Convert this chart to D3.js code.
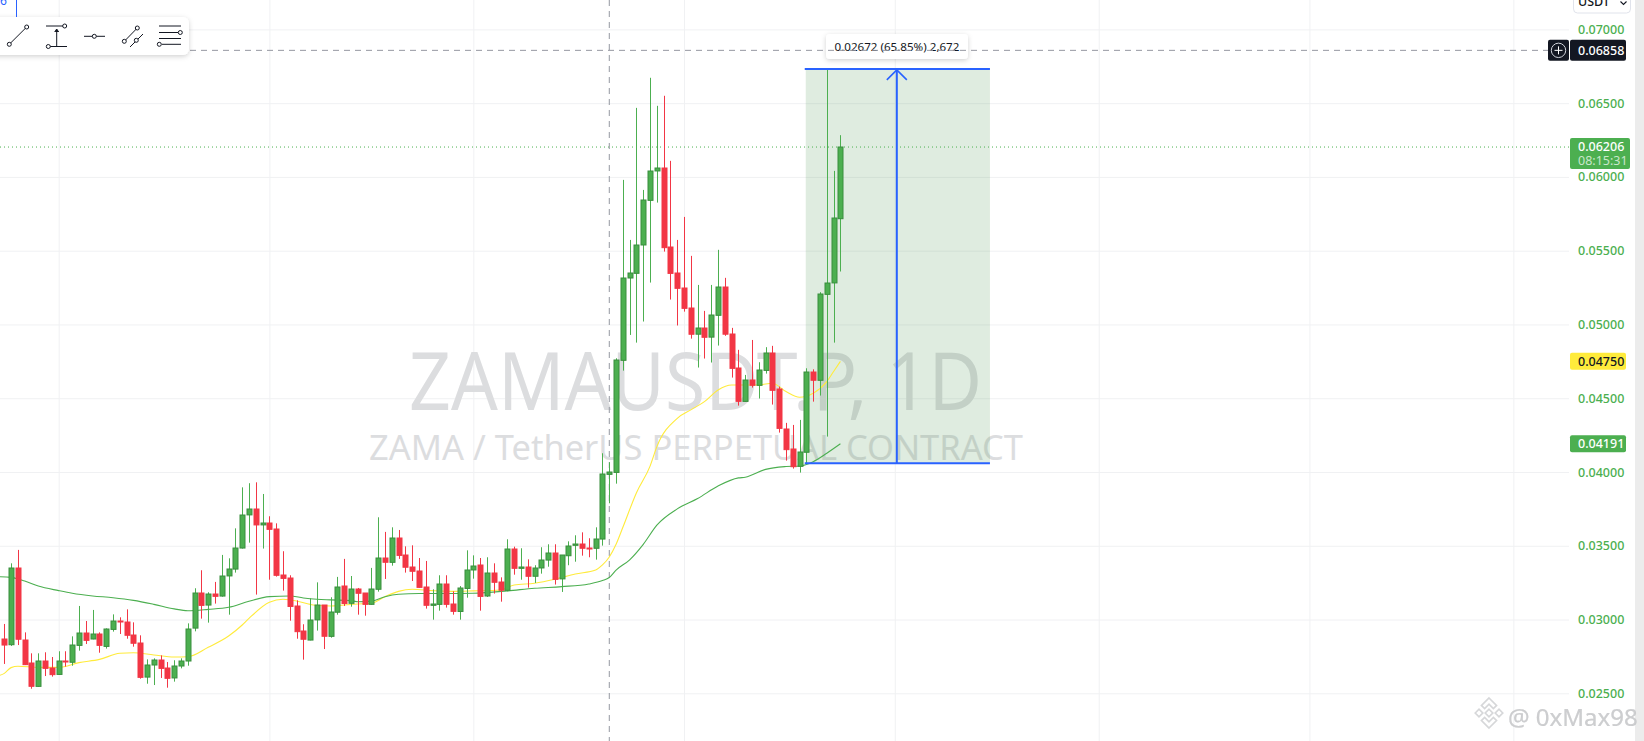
<!DOCTYPE html>
<html><head><meta charset="utf-8">
<style>html,body{margin:0;padding:0;background:#fff;overflow:hidden}svg{display:block}</style>
<script src="https://cdn.jsdelivr.net/npm/d3@7/dist/d3.min.js"></script></head>
<body><svg id="c" width="1644" height="741"></svg>
<script>
const opens=[0.02868,0.02827,0.03347,0.02859,0.02703,0.02545,0.02717,0.02669,0.02626,0.02717,
0.02708,0.02823,0.02907,0.02866,0.02900,0.02816,0.02931,0.02988,0.02981,0.02893,
0.02839,0.02608,0.02690,0.02724,0.02669,0.02602,0.02683,0.02717,0.02940,0.03178,
0.03096,0.03171,0.03157,0.03293,0.03340,0.03483,0.03707,0.03747,0.03639,0.03652,
0.03612,0.03300,0.03280,0.03092,0.02920,0.02859,0.02995,0.03096,0.02884,0.03047,
0.03227,0.03108,0.03205,0.03178,0.03101,0.03203,0.03415,0.03386,0.03551,0.03435,
0.03354,0.03327,0.03218,0.03094,0.03101,0.03239,0.03103,0.03053,0.03209,0.03334,
0.03368,0.03157,0.03313,0.03252,0.03196,0.03476,0.03345,0.03354,0.03291,0.03347,
0.03401,0.03449,0.03273,0.03435,0.03501,0.03510,0.03483,0.03481,0.03544,0.03982,
0.03996,0.04755,0.05313,0.05345,0.05537,0.05840,0.06039,0.06059,0.05524,0.05347,
0.05246,0.05110,0.04932,0.04974,0.04913,0.05060,0.05252,0.04934,0.04703,0.04477,
0.04622,0.04586,0.04687,0.04805,0.04561,0.04292,0.04154,0.04037,0.04132,0.04676,
0.04620,0.05203,0.05280,0.05720];
const closes=[0.02827,0.03347,0.02864,0.02692,0.02545,0.02717,0.02667,0.02624,0.02717,0.02712,
0.02825,0.02907,0.02857,0.02900,0.02823,0.02934,0.02988,0.02983,0.02891,0.02837,
0.02606,0.02690,0.02724,0.02667,0.02599,0.02683,0.02717,0.02934,0.03178,0.03094,
0.03171,0.03155,0.03293,0.03340,0.03483,0.03707,0.03747,0.03639,0.03652,0.03609,
0.03298,0.03277,0.03087,0.02918,0.02864,0.02995,0.03096,0.02884,0.03049,0.03218,
0.03108,0.03205,0.03176,0.03101,0.03205,0.03415,0.03386,0.03551,0.03433,0.03352,
0.03325,0.03216,0.03094,0.03103,0.03239,0.03101,0.03053,0.03212,0.03334,0.03361,
0.03155,0.03313,0.03250,0.03196,0.03476,0.03345,0.03354,0.03291,0.03347,0.03401,
0.03449,0.03270,0.03435,0.03501,0.03510,0.03481,0.03478,0.03544,0.03985,0.03998,
0.04758,0.05313,0.05347,0.05537,0.05842,0.06039,0.06059,0.05519,0.05345,0.05243,
0.05108,0.04932,0.04974,0.04911,0.05063,0.05252,0.04932,0.04701,0.04477,0.04622,
0.04586,0.04690,0.04805,0.04552,0.04294,0.04152,0.04034,0.04134,0.04676,0.04620,
0.05205,0.05280,0.05720,0.06206];
const highs=[0.02970,0.03381,0.03472,0.02913,0.02771,0.02771,0.02778,0.02746,0.02785,0.02785,
0.02886,0.03092,0.02990,0.03065,0.02913,0.02940,0.03035,0.03015,0.03069,0.02981,
0.02893,0.02730,0.02737,0.02757,0.02712,0.02724,0.02737,0.02974,0.03212,0.03334,
0.03185,0.03255,0.03438,0.03415,0.03618,0.03896,0.03924,0.03930,0.03851,0.03700,
0.03652,0.03463,0.03300,0.03130,0.02968,0.03144,0.03252,0.03096,0.03151,0.03289,
0.03411,0.03295,0.03214,0.03178,0.03350,0.03693,0.03594,0.03625,0.03607,0.03496,
0.03503,0.03417,0.03397,0.03205,0.03300,0.03300,0.03191,0.03227,0.03469,0.03435,
0.03417,0.03422,0.03381,0.03286,0.03544,0.03494,0.03483,0.03408,0.03368,0.03490,
0.03510,0.03510,0.03435,0.03530,0.03571,0.03591,0.03551,0.03625,0.04127,0.04066,
0.04771,0.05980,0.05573,0.06468,0.05912,0.06672,0.06482,0.06550,0.06109,0.05573,
0.05729,0.05465,0.05268,0.05092,0.05268,0.05506,0.05316,0.04977,0.04828,0.04658,
0.04895,0.04744,0.04846,0.04855,0.04579,0.04333,0.04319,0.04353,0.04703,0.04696,
0.05219,0.06737,0.06041,0.06283];
const lows=[0.02699,0.02821,0.02827,0.02692,0.02531,0.02545,0.02617,0.02613,0.02626,0.02681,
0.02687,0.02789,0.02834,0.02866,0.02775,0.02803,0.02918,0.02902,0.02870,0.02816,
0.02599,0.02565,0.02556,0.02604,0.02538,0.02579,0.02669,0.02687,0.02920,0.03006,
0.02979,0.03108,0.03155,0.03033,0.03318,0.03481,0.03521,0.03169,0.03481,0.03270,
0.03291,0.03196,0.02992,0.02870,0.02728,0.02859,0.02925,0.02800,0.02877,0.03033,
0.03092,0.03087,0.03033,0.03026,0.03101,0.03189,0.03275,0.03365,0.03411,0.03318,
0.03261,0.03216,0.03074,0.02999,0.03060,0.03081,0.03033,0.02999,0.03148,0.03277,
0.03060,0.03153,0.03176,0.03121,0.03191,0.03304,0.03270,0.03216,0.03248,0.03311,
0.03358,0.03237,0.03187,0.03368,0.03392,0.03433,0.03422,0.03406,0.03501,0.03788,
0.03921,0.04687,0.04929,0.04877,0.05020,0.05284,0.05826,0.05494,0.05169,0.04993,
0.05087,0.04904,0.04708,0.04769,0.04742,0.04857,0.04923,0.04640,0.04450,0.04477,
0.04572,0.04498,0.04667,0.04457,0.04267,0.04077,0.04023,0.03996,0.04059,0.04477,
0.04518,0.04240,0.04877,0.05359];

// moving averages read at sampled candle positions
const slowMaIndex=[-1,1,3,5,8,10,13,16,19,22,25,27,30,33,36,39,42,44,46,48,51,52,54,56,58,61,65,69,74,78,82,86,88,89,90,92,94,96,99,102,105,108,109,112,115,117,119,121,123];
const slowMaValue=[0.03291,0.03286,0.03261,0.03227,0.03196,0.03178,0.03160,0.03148,0.03130,0.03103,0.03072,0.03060,0.03069,0.03083,0.03124,0.03155,0.03160,0.03146,0.03137,0.03133,0.03128,0.03121,0.03125,0.03155,0.03171,0.03176,0.03176,0.03178,0.03194,0.03212,0.03223,0.03241,0.03264,0.03285,0.03335,0.03405,0.03510,0.03640,0.03750,0.03820,0.03905,0.03960,0.03964,0.04018,0.04037,0.04041,0.04070,0.04127,0.04191];
const fastMaIndex=[-1,0,1,2,5,8,11,14,17,19,22,25,27,30,33,35,36,39,41,43,45,46,48,50,52,54,56,58,60,63,66,69,73,75,78,81,84,87,88,89,90,91,93,95,96,99,101,103,105,107,109,111,113,115,117,119,121,122,123];
const fastMaValue=[0.02617,0.02635,0.02674,0.02683,0.02676,0.02676,0.02708,0.02730,0.02771,0.02775,0.02760,0.02746,0.02748,0.02812,0.02888,0.02963,0.03008,0.03117,0.03137,0.03126,0.03103,0.03095,0.03092,0.03099,0.03105,0.03110,0.03155,0.03191,0.03205,0.03196,0.03191,0.03194,0.03200,0.03234,0.03246,0.03273,0.03309,0.03336,0.03370,0.03424,0.03510,0.03625,0.03860,0.04040,0.04172,0.04364,0.04421,0.04477,0.04556,0.04590,0.04590,0.04590,0.04602,0.04545,0.04507,0.04534,0.04613,0.04681,0.04750];

const priceTicks=[0.025,0.03,0.035,0.04,0.045,0.05,0.055,0.06,0.065,0.07];
const monthStarts=[8,39,69,100,131,161,192,222];
const lastPrice=0.06206, countdown="08:15:31", crossPrice=0.06858, crossIndex=89;
const fastMaLast=0.04750, slowMaLast=0.04191;
const measureLow=0.04060, measureHigh=0.06732, measureFrom=117.9, measureTo=145, measureMid=131.3;
const measureText="0.02672 (65.85%) 2,672";

const UP="#4caf50",UPB="#388e3c",DOWN="#f23645",BLUE="#2962ff",FONT="'Noto Sans',sans-serif";
const svg=d3.select("#c");
const x=d3.scaleLinear().domain([0,123]).range([4.3,840.4]);
const y=d3.scaleLinear().domain([0.025,0.07]).range([693.3,29.4]);
const R=1569;

const defs=svg.append("defs");
const sh=defs.append("filter").attr("id","sh").attr("x","-20%").attr("y","-30%").attr("width","140%").attr("height","170%");
sh.append("feDropShadow").attr("dx",0).attr("dy",1.5).attr("stdDeviation",2.5).attr("flood-color","#000").attr("flood-opacity",.18);
const cp=defs.append("clipPath").attr("id","plot");cp.append("rect").attr("x",0).attr("y",0).attr("width",R).attr("height",741);

// grid
const gh=svg.append("g").call(d3.axisRight(y).tickValues(priceTicks).tickSize(R).tickFormat(""));
gh.select(".domain").remove();gh.selectAll("line").attr("stroke","#f0f1f3").attr("stroke-width",1);
const gv=svg.append("g").call(d3.axisBottom(x).tickValues(monthStarts).tickSize(741).tickFormat(""));
gv.select(".domain").remove();gv.selectAll("line").attr("stroke","#f0f1f3").attr("stroke-width",1);

// watermark
const wm=svg.append("g").attr("font-family","'Noto Sans',sans-serif").attr("fill","#dcdddf");
wm.append("text").attr("x",409).attr("y",409.5).attr("font-size",81).attr("textLength",573).attr("lengthAdjust","spacingAndGlyphs").text("ZAMAUSDT.P, 1D");
wm.append("text").attr("x",369).attr("y",460).attr("font-size",35).attr("textLength",654).attr("lengthAdjust","spacingAndGlyphs").text("ZAMA / TetherUS PERPETUAL CONTRACT");

// measure box fill
svg.append("rect").attr("x",x(measureFrom)).attr("y",y(measureHigh)).attr("width",x(measureTo)-x(measureFrom)).attr("height",y(measureLow)-y(measureHigh)).attr("fill","#5f9e63").attr("fill-opacity",.2);

// price lines
svg.append("line").attr("x1",0).attr("x2",R).attr("y1",y(lastPrice)+.5).attr("y2",y(lastPrice)+.5).attr("stroke",UP).attr("stroke-dasharray","1 3");
svg.append("line").attr("x1",x(crossIndex)).attr("x2",x(crossIndex)).attr("y1",0).attr("y2",741).attr("stroke","#9598a1").attr("stroke-dasharray","6 5");

// moving averages
const line=d3.line().curve(d3.curveMonotoneX);
const maPath=(ix,vals,col)=>svg.append("path").attr("d",line(ix.map((v,i)=>[x(v),y(vals[i])]))).attr("fill","none").attr("stroke",col).attr("stroke-width",1.1).attr("clip-path","url(#plot)");
maPath(fastMaIndex,fastMaValue,"#ffeb3b");
maPath(slowMaIndex,slowMaValue,"#4caf50");

// candles
const idx=d3.range(opens.length);
const g=svg.append("g");
g.selectAll("line").data(idx).join("line")
 .attr("x1",i=>Math.round(x(i))+.5).attr("x2",i=>Math.round(x(i))+.5)
 .attr("y1",i=>y(highs[i])).attr("y2",i=>y(lows[i]))
 .attr("stroke",i=>closes[i]>=opens[i]?UP:DOWN).attr("stroke-width",1);
g.selectAll("rect").data(idx).join("rect")
 .attr("x",i=>Math.round(x(i))-2).attr("width",5)
 .attr("y",i=>Math.round(y(Math.max(opens[i],closes[i]))))
 .attr("height",i=>Math.max(1,Math.abs(y(opens[i])-y(closes[i]))))
 .attr("fill",i=>closes[i]>=opens[i]?UP:DOWN)
 .attr("stroke",i=>closes[i]>=opens[i]?UPB:DOWN).attr("stroke-width",1);

// measure tool
const mx=x(measureMid),mt=y(measureHigh),mb=y(measureLow);
const ml=svg.append("g").attr("stroke",BLUE).attr("fill","none");
ml.append("line").attr("x1",x(measureFrom)-1).attr("x2",x(measureTo)).attr("y1",mt).attr("y2",mt).attr("stroke-width",2);
ml.append("line").attr("x1",x(measureFrom)-1).attr("x2",x(measureTo)).attr("y1",mb).attr("y2",mb).attr("stroke-width",2);
ml.append("line").attr("x1",mx).attr("x2",mx).attr("y1",mt).attr("y2",mb).attr("stroke-width",2);
ml.append("path").attr("d",`M${mx-10},${mt+11}L${mx},${mt+1}L${mx+10},${mt+11}`).attr("stroke-width",1.6);
const lb=svg.append("g");
lb.append("rect").attr("x",826).attr("y",34).attr("width",142).attr("height",25).attr("rx",4).attr("fill","#fff").attr("filter","url(#sh)");
lb.append("text").attr("x",897).attr("y",50.5).attr("text-anchor","middle").attr("font-family",FONT).attr("font-size",11.6).attr("fill","#131722").text(measureText);

// crosshair horizontal
svg.append("line").attr("x1",190).attr("x2",1548).attr("y1",y(crossPrice)).attr("y2",y(crossPrice)).attr("stroke","#9598a1").attr("stroke-dasharray","6 5");

// price axis
const ax=svg.append("g").attr("transform",`translate(1578,0)`).call(d3.axisRight(y).tickValues(priceTicks).tickSize(0).tickPadding(0).tickFormat(d3.format(".5f")));
ax.select(".domain").remove();
ax.selectAll("text").attr("font-family",FONT).attr("font-size",12.5).attr("fill",UP).attr("font-weight",500);

// scrollbar band
svg.append("rect").attr("x",1635).attr("y",0).attr("width",9).attr("height",741).attr("fill","#ececec");

// price tags
const tag=(price,h,bg,fg,w)=>{const cy=y(price);
 svg.append("rect").attr("x",1570).attr("y",cy-h/2).attr("width",w).attr("height",h).attr("rx",2).attr("fill",bg);
 svg.append("text").attr("x",1578).attr("y",cy+4.5).attr("font-family",FONT).attr("font-size",12.5).attr("font-weight",500).attr("fill",fg).text(d3.format(".5f")(price));};
tag(fastMaLast,17,"#ffeb3b","#131722",56);
tag(slowMaLast,17,UP,"#fff",56);
tag(crossPrice,21,"#131722","#fff",56);
svg.append("rect").attr("x",1570).attr("y",138).attr("width",60).attr("height",31).attr("rx",2).attr("fill",UP);
svg.append("text").attr("x",1578).attr("y",151).attr("font-family",FONT).attr("font-size",12.5).attr("font-weight",500).attr("fill","#fff").text(d3.format(".5f")(lastPrice));
svg.append("text").attr("x",1578).attr("y",165).attr("font-family",FONT).attr("font-size",12.5).attr("fill","#c9e7cb").text(countdown);
// plus button
const cy=y(crossPrice);
svg.append("rect").attr("x",1548).attr("y",cy-10.5).attr("width",21).attr("height",21).attr("rx",2).attr("fill","#131722");
svg.append("circle").attr("cx",1558.5).attr("cy",cy).attr("r",7.2).attr("fill","none").attr("stroke","#d1d4dc").attr("stroke-width",1);
svg.append("path").attr("d",`M1554.5,${cy}h8M1558.5,${cy-4}v8`).attr("stroke","#fff").attr("stroke-width",1);

// currency selector
svg.append("rect").attr("x",1573.5).attr("y",-10).attr("width",57).attr("height",23).attr("rx",4).attr("fill","#fff").attr("stroke","#e0e3eb");
svg.append("text").attr("x",1578).attr("y",6).attr("font-family",FONT).attr("font-size",12.5).attr("font-weight",500).attr("fill","#131722").text("USDT");
svg.append("path").attr("d","M1620.5,1.5l3,3l3,-3").attr("fill","none").attr("stroke","#131722").attr("stroke-width",1.1);

// toolbar
svg.append("rect").attr("x",-12).attr("y",17).attr("width",201).attr("height",38).attr("rx",6).attr("fill","#fff").attr("filter","url(#sh)");
const ic=svg.append("g").attr("stroke","#131722").attr("stroke-width",1).attr("fill","none");
const seg=(a,b,c,d)=>ic.append("line").attr("x1",a).attr("y1",b).attr("x2",c).attr("y2",d);
const dot=(a,b)=>ic.append("circle").attr("cx",a).attr("cy",b).attr("r",2).attr("fill","#fff");
seg(9.3,44.3,26.7,27);dot(9.3,44.3);dot(26.7,27);
seg(46,26,63,26);dot(64.7,26);seg(50,46.5,67,46.5);dot(48.3,46.5);seg(56.7,46,56.7,30);
ic.append("path").attr("d","M54.7,32l2,-3l2,3").attr("fill","#131722");
seg(84,36.3,105,36.3);dot(94.3,36.3);
seg(124.3,41.3,137.3,28);dot(124.3,41.3);dot(137.3,28);seg(130,47,143,34);dot(136.3,40.3);
seg(159,26,181,26);seg(159,32.5,178,32.5);seg(159,38.5,181,38.5);seg(162,44.3,181,44.3);dot(180.3,32.5);dot(159.3,44.3);

// top-left fragment
svg.append("line").attr("x1",16.5).attr("x2",16.5).attr("y1",0).attr("y2",17).attr("stroke",BLUE);
svg.append("text").attr("x",0).attr("y",5).attr("font-family",FONT).attr("font-size",12).attr("fill",BLUE).text("6");

// author watermark
const wmk=svg.append("g").attr("opacity",.9);
wmk.append("text").attr("x",1508).attr("y",726).attr("font-family",FONT).attr("font-size",24).attr("fill","#c8c9cb").attr("stroke","#b9babc").attr("stroke-width",.2).text("@ 0xMax98");
const lg=wmk.append("g").attr("transform","translate(1489,713) scale(1.25)").attr("fill","none").attr("stroke","#d2d3d5").attr("stroke-width",1.4);
lg.append("path").attr("d","M0,-12L6,-6L3.5,-3.5L0,-7L-3.5,-3.5L-6,-6Z");
lg.append("path").attr("d","M0,12L6,6L3.5,3.5L0,7L-3.5,3.5L-6,6Z");
lg.append("path").attr("d","M-11,0L-8,-3L-5,0L-8,3Z");
lg.append("path").attr("d","M11,0L8,-3L5,0L8,3Z");
lg.append("path").attr("d","M0,-3L3,0L0,3L-3,0Z");
</script></body></html>
